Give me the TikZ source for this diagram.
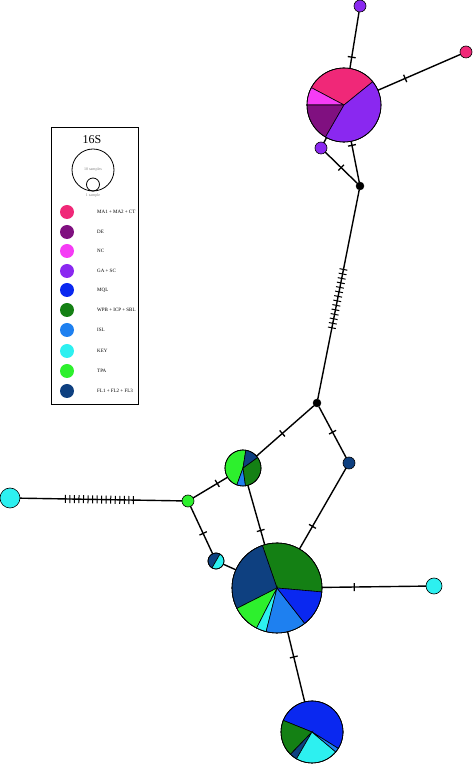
\documentclass[tikz,border=0pt]{standalone}
\usepackage{fontspec}
\setmainfont{Liberation Serif}
\definecolor{cMA}{RGB}{240,40,120}
\definecolor{cDE}{RGB}{128,16,128}
\definecolor{cNC}{RGB}{245,60,245}
\definecolor{cGA}{RGB}{138,40,240}
\definecolor{cMQL}{RGB}{10,40,240}
\definecolor{cWPB}{RGB}{20,128,20}
\definecolor{cISL}{RGB}{30,128,240}
\definecolor{cKEY}{RGB}{45,240,240}
\definecolor{cTPA}{RGB}{45,240,45}
\definecolor{cFL}{RGB}{14,64,128}
\newcommand\pslice[5]{\filldraw[fill=#5,draw=black,line width=0.6pt] (#1.center) -- ++(#3:#2) arc[start angle=#3,end angle=#4,radius=#2] -- cycle;}
\tikzset{
  hap/.style={circle,draw=black,line width=0.6pt,inner sep=0pt,outer sep=0pt,minimum size=#1},
  junc/.style={circle,fill=black,draw=black,inner sep=0pt,minimum size=8pt},
  conn/.style={line width=1.4pt,black},
  mtick/.style={sloped,draw,line width=1.3pt,minimum width=0pt,minimum height=8pt,inner sep=0pt,outer sep=0pt},
  ntick/.style={sloped,draw,line width=1pt,minimum width=0pt,minimum height=8pt,inner sep=0pt,outer sep=0pt},
  legdot/.style={circle,inner sep=0pt,minimum size=14pt},
  legtxt/.style={anchor=west,font=\fontsize{5}{6}\selectfont,inner sep=0pt}
}
\begin{document}
\begin{tikzpicture}[x=1pt,y=1pt]
\useasboundingbox (0,0) rectangle (474,764);
% ---------- nodes ----------
\node[hap=12,fill=cGA] (tpu) at (360,758) {};
\node[hap=12,fill=cMA] (tpk) at (466,712) {};
\node[hap=74] (tp) at (344,659) {};
\node[hap=12,fill=cGA] (spu) at (321,616) {};
\node[junc] (j1) at (360,578) {};
\node[junc] (j2) at (317,361) {};
\node[hap=12,fill=cFL] (db) at (349,301) {};
\node[hap=36] (mp) at (243,296) {};
\node[hap=12,fill=cTPA] (gn) at (188,263) {};
\node[hap=16] (sp) at (216,203) {};
\node[hap=90] (bp) at (277,176) {};
\node[hap=16,fill=cKEY] (cr) at (434,178) {};
\node[hap=20,fill=cKEY] (cl) at (10,266) {};
\node[hap=62] (bt) at (312,32) {};
% ---------- pies ----------
% top pie
\pslice{tp}{37}{39}{152}{cMA}
\pslice{tp}{37}{152}{180}{cNC}
\pslice{tp}{37}{180}{240}{cDE}
\pslice{tp}{37}{240}{399}{cGA}
\draw[line width=0.6pt] (tp.center) circle[radius=37];
% middle pie
\pslice{mp}{18}{81}{250}{cTPA}
\pslice{mp}{18}{250}{278}{cISL}
\pslice{mp}{18}{278}{396}{cWPB}
\pslice{mp}{18}{396}{441}{cFL}
\draw[line width=0.6pt] (mp.center) circle[radius=18];
% small pie
\pslice{sp}{8}{60}{240}{cFL}
\pslice{sp}{8}{240}{420}{cKEY}
\draw[line width=0.6pt] (sp.center) circle[radius=8];
% big pie
\pslice{bp}{45}{-5}{109}{cWPB}
\pslice{bp}{45}{109}{207}{cFL}
\pslice{bp}{45}{207}{243}{cTPA}
\pslice{bp}{45}{243}{256}{cKEY}
\pslice{bp}{45}{256}{308}{cISL}
\pslice{bp}{45}{308}{355}{cMQL}
\draw[line width=0.6pt] (bp.center) circle[radius=45];
% bottom pie
\pslice{bt}{31}{-32}{158}{cMQL}
\pslice{bt}{31}{158}{226}{cWPB}
\pslice{bt}{31}{226}{240}{cFL}
\pslice{bt}{31}{240}{320}{cKEY}
\pslice{bt}{31}{320}{328}{cISL}
\draw[line width=0.6pt] (bt.center) circle[radius=31];
% ---------- connectors ----------
\draw[conn] (tpu) -- (tp) node[mtick,pos=0.8]{};
\draw[conn] (tpk) -- (tp) node[mtick,pos=0.67]{};
\draw[conn] (tp) -- (spu);
\draw[conn] (spu) -- (j1) node[mtick,pos=0.5]{};
\draw[conn] (j1) -- (tp) node[mtick,pos=0.9]{};
\draw[conn] (j1) -- (j2);
\foreach \i in {0,...,13}{\pgfmathsetmacro\p{0.38+\i*0.0215}\path (j1) -- (j2) node[ntick,pos=\p]{};}
\draw[conn] (j2) -- (mp) node[mtick,pos=0.55]{};
\draw[conn] (j2) -- (db) node[mtick,pos=0.5]{};
\draw[conn] (db) -- (bp) node[mtick,pos=0.72]{};
\draw[conn] (mp) -- (gn) node[mtick,pos=0.3]{};
\draw[conn] (mp) -- (bp) node[mtick,pos=0.76]{};
\draw[conn] (gn) -- (sp) node[mtick,pos=0.57]{};
\draw[conn] (sp) -- (bp);
\draw[conn] (gn) -- (cl);
\foreach \i in {0,...,15}{\pgfmathsetmacro\p{0.30+\i*0.028}\path (gn) -- (cl) node[ntick,pos=\p]{};}
\draw[conn] (bp) -- (cr) node[mtick,pos=0.31]{};
\draw[conn] (bp) -- (bt) node[mtick,pos=0.36]{};
% ---------- legend ----------
\node[draw=black,line width=0.9pt,inner sep=0pt,minimum width=87pt,minimum height=277pt] (lg) at (94.5,498.5) {};
\node (ttl) at (92,624) {\fontsize{12}{12}\selectfont 16S};
\node[circle,draw=black,line width=0.8pt,inner sep=0pt,minimum size=42pt] (lbig) at (93,594) {};
\node[circle,draw=black,line width=0.8pt,inner sep=0pt,minimum size=13pt] (lsml) at (93,579.5) {};
\node[text=gray,inner sep=0pt,font=\fontsize{4}{5}\selectfont] (lbt) at (93,594) {10 samples};
\node[text=gray,inner sep=0pt,font=\fontsize{4}{5}\selectfont] (lst) at (93,568) {1 sample};
\foreach \c/\t/\y [count=\k] in {cMA/MA1 + MA2 + CT/552, cDE/DE/532, cNC/NC/513, cGA/GA + SC/493, cMQL/MQL/474, cWPB/WPB + ICP + SBL/454, cISL/ISL/434, cKEY/KEY/413, cTPA/TPA/393, cFL/FL1 + FL2 + FL3/373}{
  \node[legdot,fill=\c] (ld\k) at (67,\y) {};
  \node[legtxt] (lt\k) at (97,\y) {\t};
}
\end{tikzpicture}
\end{document}
